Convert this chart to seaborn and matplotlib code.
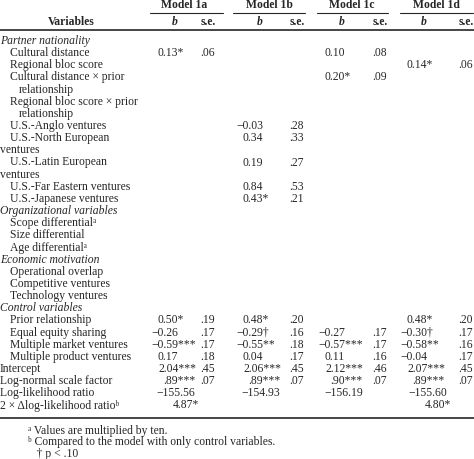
import matplotlib
matplotlib.use("Agg")
import matplotlib.pyplot as plt
import seaborn as sns

sns.set_theme(style="white")
plt.rcParams['font.family'] = ['Liberation Serif', 'DejaVu Serif']

models = ["Model 1a", "Model 1b", "Model 1c", "Model 1d"]
# (label, indent level, italic)
rows = [
    ("Partner nationality", 0, True),
    ("Cultural distance", 1, False),
    ("Regional bloc score", 1, False),
    ("Cultural distance × prior", 1, False),
    ("relationship", 2, False),
    ("Regional bloc score × prior", 1, False),
    ("relationship", 2, False),
    ("U.S.-Anglo ventures", 1, False),
    ("U.S.-North European", 1, False),
    ("ventures", 0, False),
    ("U.S.-Latin European", 1, False),
    ("ventures", 0, False),
    ("U.S.-Far Eastern ventures", 1, False),
    ("U.S.-Japanese ventures", 1, False),
    ("Organizational variables", 0, True),
    ("Scope differentialᵃ", 1, False),
    ("Size differential", 1, False),
    ("Age differentialᵃ", 1, False),
    ("Economic motivation", 0, True),
    ("Operational overlap", 1, False),
    ("Competitive ventures", 1, False),
    ("Technology ventures", 1, False),
    ("Control variables", 0, True),
    ("Prior relationship", 1, False),
    ("Equal equity sharing", 1, False),
    ("Multiple market ventures", 1, False),
    ("Multiple product ventures", 1, False),
    ("Intercept", 0, False),
    ("Log-normal scale factor", 0, False),
    ("Log-likelihood ratio", 0, False),
    ("2 × Δlog-likelihood ratioᵇ", 0, False),
]
n = len(rows)
def col(d):
    out = [""] * n
    for k, v in d.items():
        out[k] = v
    return out

b_1a = col({1: "0.13*", 23: "0.50*", 24: "−0.26", 25: "−0.59***", 26: "0.17", 27: "2.04***", 28: ".89***"})
se_1a = col({1: ".06", 23: ".19", 24: ".17", 25: ".17", 26: ".18", 27: ".45", 28: ".07"})
b_1b = col({7: "−0.03", 8: "0.34", 10: "0.19", 12: "0.84", 13: "0.43*", 23: "0.48*", 24: "−0.29†", 25: "−0.55**", 26: "0.04", 27: "2.06***", 28: ".89***"})
se_1b = col({7: ".28", 8: ".33", 10: ".27", 12: ".53", 13: ".21", 23: ".20", 24: ".16", 25: ".18", 26: ".17", 27: ".45", 28: ".07"})
b_1c = col({1: "0.10", 3: "0.20*", 24: "−0.27", 25: "−0.57***", 26: "0.11", 27: "2.12***", 28: ".90***"})
se_1c = col({1: ".08", 3: ".09", 24: ".17", 25: ".17", 26: ".16", 27: ".46", 28: ".07"})
b_1d = col({2: "0.14*", 23: "0.48*", 24: "−0.30†", 25: "−0.58**", 26: "−0.04", 27: "2.07***", 28: ".89***"})
se_1d = col({2: ".06", 23: ".20", 24: ".17", 25: ".16", 26: ".17", 27: ".45", 28: ".07"})
llr = ["−155.56", "−154.93", "−156.19", "−155.60"]
dllr = ["4.87*", "", "", "4.80*"]
footnotes = ["ᵃ Values are multiplied by ten.",
             "ᵇ Compared to the model with only control variables.",
             "   † p < .10"]

fig = plt.figure(figsize=(4.74, 4.59), dpi=100)
ax = fig.add_axes([0, 0, 1, 1])
ax.set_xlim(0, 474); ax.set_ylim(459, 0); ax.axis("off")
C = "#262626"; fs = 8.4

centers = [184, 269, 352, 436]
spans = [(150, 223), (233, 305), (317, 388), (400, 473)]
bx = [158, 243, 325, 407]
sex = [208, 297, 380, 466]
for m, c, (a, e) in zip(models, centers, spans):
    ax.text(c, 5, m, ha="center", va="center", fontsize=fs, fontweight="bold", color=C)
    ax.plot([a, e], [13, 13], color=C, lw=0.8)
ax.text(71, 22, "Variables", ha="center", va="center", fontsize=fs, fontweight="bold", color=C)
for x1, x2 in zip(bx, sex):
    ax.text(x1 + 17, 22, "b", ha="center", va="center", fontsize=fs, fontweight="bold", style="italic", color=C)
    ax.text(x2, 22, "s.e.", ha="center", va="center", fontsize=fs, fontweight="bold", color=C)
ax.plot([0, 474], [30, 30], color=C, lw=1.2)

y0, dy = 41, 12.15
indents = {0: 0, 1: 10, 2: 19}
for i, (lab, lev, it) in enumerate(rows):
    y = y0 + i * dy
    ax.text(indents[lev], y, lab, ha="left", va="center", fontsize=fs, color=C,
            style="italic" if it else "normal")
for bs, ss, x1, x2 in zip([b_1a, b_1b, b_1c, b_1d], [se_1a, se_1b, se_1c, se_1d], bx, sex):
    for i in range(n):
        y = y0 + i * dy
        if bs[i]:
            v = bs[i]
            xx = x1 - 7 if v.startswith("−") else (x1 + 5 if v.startswith(".") else x1)
            ax.text(xx, y, v, ha="left", va="center", fontsize=fs, color=C)
        if ss[i]:
            ax.text(x2, y, ss[i], ha="center", va="center", fontsize=fs, color=C)
for k, c in enumerate(centers):
    ax.text(c - 8, y0 + 29 * dy, llr[k], ha="center", va="center", fontsize=fs, color=C)
    if dllr[k]:
        ax.text(c + 2, y0 + 30 * dy, dllr[k], ha="center", va="center", fontsize=fs, color=C)
ax.plot([0, 474], [418, 418], color=C, lw=1.2)
for j, f in enumerate(footnotes):
    ax.text(28, 431 + j * 11.5, f, ha="left", va="center", fontsize=fs, color=C)
fig.savefig("out.png", dpi=100)
